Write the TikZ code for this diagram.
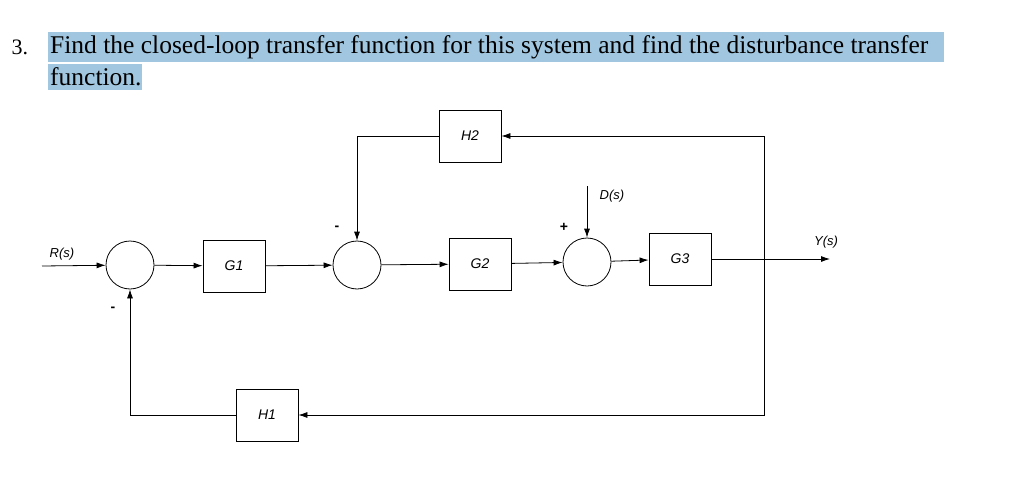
\documentclass[tikz,border=0pt]{standalone}
\usepackage{fontspec}
\setmainfont{Liberation Serif}
\newfontfamily\lab{Liberation Sans}
\usetikzlibrary{arrows.meta}
\definecolor{hl}{RGB}{160,198,224}
\begin{document}
\begin{tikzpicture}[x=1pt,y=-1pt,
  blk/.style={draw,line width=0.8pt,minimum width=62pt,minimum height=52pt,font=\lab\fontsize{14}{16}\selectfont\itshape},
  sumc/.style={draw,circle,line width=0.8pt,minimum size=48pt,inner sep=0pt},
  sig/.style={line width=0.8pt,-{Latex[length=9pt,width=6pt]}},
  lb/.style={font=\lab\fontsize{13}{15}\selectfont\itshape},
  sg/.style={font=\lab\fontsize{14}{16}\selectfont\bfseries}]
\useasboundingbox (0,0) rectangle (1024,484);
\fill[hl] (48,32) rectangle (944,62);
\fill[hl] (48,64) rectangle (142,90);
\node[anchor=west,font=\fontsize{22}{24}\selectfont] (num) at (8,47) {3.};
\node[anchor=west,font=\fontsize{25.5}{28}\selectfont,inner sep=0pt] (t1) at (50,47) {Find the closed-loop transfer function for this system and find the disturbance transfer};
\node[anchor=west,font=\fontsize{25.5}{28}\selectfont,inner sep=0pt] (t2) at (50,77) {function.};
\node[sumc] (s1) at (130,265) {};
\node[blk] (g1) at (234,266) {G1};
\node[sumc] (s2) at (357,265) {};
\node[blk] (g2) at (480,264) {G2};
\node[sumc] (s3) at (587,262) {};
\node[blk] (g3) at (680,259) {G3};
\node[blk] (h2) at (470,136) {H2};
\node[blk] (h1) at (267,415) {H1};
\node[lb] (rs) at (62,254) {R(s)};
\node[lb] (ys) at (826,242) {Y(s)};
\node[lb] (ds) at (612,196) {D(s)};
\node[sg] (m1) at (113,309) {-};
\node[sg] (m2) at (337,228) {-};
\node[sg] (p3) at (564,227) {+};
\coordinate (rin) at (42,266);
\coordinate (yout) at (830,259);
\coordinate (br) at (764,259);
\coordinate (dtop) at (587,186);
\draw[sig] (rin) -- (s1);
\draw[sig] (s1) -- (g1);
\draw[sig] (g1) -- (s2);
\draw[sig] (s2) -- (g2);
\draw[sig] (g2) -- (s3);
\draw[sig] (s3) -- (g3);
\draw[sig] (g3) -- (yout);
\draw[sig] (dtop) -- (s3);
\draw[sig] (br) |- (h2);
\draw[sig] (h2) -| (s2);
\draw[sig] (br) |- (h1);
\draw[sig] (h1) -| (s1);
\end{tikzpicture}
\end{document}
